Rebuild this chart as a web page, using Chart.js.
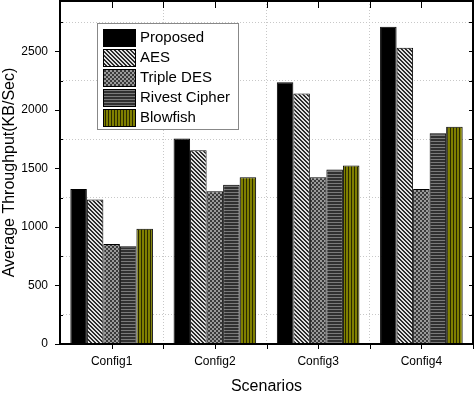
<!DOCTYPE html>
<html>
<head>
<meta charset="utf-8">
<script src="https://cdn.jsdelivr.net/npm/chart.js@4"></script>
<style>
  html, body { margin: 0; padding: 0; background: #fff; }
  #wrap { width: 474px; height: 397px; }
</style>
</head>
<body>
<div id="wrap"><canvas id="throughputChart" width="474" height="397"></canvas></div>
<script>
// Data
const scenarios = ['Config1', 'Config2', 'Config3', 'Config4'];
const proposed = [1325, 1755, 2235, 2710];
const aes = [1235, 1655, 2140, 2530];
const tripleDes = [855, 1305, 1425, 1325];
const rivestCipher = [835, 1360, 1490, 1800];
const blowfish = [985, 1425, 1525, 1855];
const yMax = 2930;
const yStep = 250;

// Build a small canvas pattern for the hatched bars
function makePattern(size, draw) {
    const c = document.createElement('canvas');
    c.width = size;
    c.height = size;
    const g = c.getContext('2d');
    draw(g, size);
    return c.getContext('2d').createPattern(c, 'repeat');
}

const aesFill = makePattern(4, (g, s) => {
    g.fillStyle = '#e0e0e0';
    g.fillRect(0, 0, s, s);
    g.fillStyle = '#2b2b2b';
    for (let i = 0; i < s; i++) {
        g.fillRect(i, i, 1, 1);
        g.fillRect((i + 1) % s, i, 1, 1);
    }
});

const tripleDesFill = makePattern(4, (g, s) => {
    g.fillStyle = '#3a3a3a';
    g.fillRect(0, 0, s, s);
    g.fillStyle = '#9a9a9a';
    g.fillRect(0, 0, 2, 2);
    g.fillRect(2, 2, 2, 2);
});

const rivestFill = makePattern(3, (g, s) => {
    g.fillStyle = '#303030';
    g.fillRect(0, 0, s, s);
    g.fillStyle = '#7a7a7a';
    g.fillRect(0, 0, s, 1);
});

const blowfishFill = makePattern(3, (g, s) => {
    g.fillStyle = '#808000';
    g.fillRect(0, 0, s, s);
    g.fillStyle = '#2a2a00';
    g.fillRect(0, 0, 1, s);
});

// Frame, tick marks and legend box drawn on top of the chart
const framePlugin = {
    id: 'frame',
    afterDraw(chart) {
        const ctx = chart.ctx;
        const area = chart.chartArea;
        const x = chart.scales.x;
        const y = chart.scales.y;
        ctx.save();
        ctx.strokeStyle = '#000';
        ctx.lineWidth = 1;

        // y ticks: outward at majors on the left, inward at every step on the right
        for (let v = 0; v <= yMax; v += yStep) {
            const py = Math.round(y.getPixelForValue(v)) + 0.5;
            ctx.beginPath();
            if (v % 500 === 0) {
                ctx.moveTo(area.left - 5, py);
                ctx.lineTo(area.left, py);
            } else {
                ctx.moveTo(area.left, py);
                ctx.lineTo(area.left + 3, py);
            }
            ctx.moveTo(area.right, py);
            ctx.lineTo(area.right - 4, py);
            ctx.stroke();
        }

        // x ticks at category centres and boundaries, bottom outward, top inward
        const half = (x.getPixelForValue(1) - x.getPixelForValue(0)) / 2;
        scenarios.forEach((s, i) => {
            const c = x.getPixelForValue(i);
            [c, c + half].forEach(px => {
                px = Math.round(px) + 0.5;
                ctx.beginPath();
                ctx.moveTo(px, area.bottom);
                ctx.lineTo(px, area.bottom + 5);
                ctx.moveTo(px, area.top);
                ctx.lineTo(px, area.top + 7);
                ctx.stroke();
            });
        });

        // plot frame
        ctx.lineWidth = 2;
        ctx.strokeRect(area.left, area.top, area.right - area.left, area.bottom - area.top);

        // legend inside the plot
        const lx = 97, ly = 23, lw = 141, lh = 106;
        ctx.fillStyle = '#fff';
        ctx.fillRect(lx, ly, lw, lh);
        ctx.lineWidth = 1;
        ctx.strokeStyle = '#888';
        ctx.strokeRect(lx + 0.5, ly + 0.5, lw, lh);
        ctx.font = '15px Arial, "Liberation Sans", sans-serif';
        ctx.textBaseline = 'middle';
        chart.data.datasets.forEach((ds, i) => {
            const cy = ly + 14 + i * 20;
            ctx.fillStyle = ds.backgroundColor;
            ctx.fillRect(lx + 6, cy - 8, 32, 17);
            ctx.strokeStyle = '#000';
            ctx.strokeRect(lx + 6.5, cy - 7.5, 32, 17);
            ctx.fillStyle = '#000';
            ctx.fillText(ds.label, lx + 43, cy + 1);
        });
        ctx.restore();
    }
};

const ctx = document.getElementById('throughputChart').getContext('2d');

const throughputChart = new Chart(ctx, {
    type: 'bar',
    data: {
        labels: scenarios,
        datasets: [
            { label: 'Proposed', data: proposed, backgroundColor: '#000000' },
            { label: 'AES', data: aes, backgroundColor: aesFill },
            { label: 'Triple DES', data: tripleDes, backgroundColor: tripleDesFill },
            { label: 'Rivest Cipher', data: rivestCipher, backgroundColor: rivestFill },
            { label: 'Blowfish', data: blowfish, backgroundColor: blowfishFill }
        ].map(ds => Object.assign(ds, {
            borderColor: '#000',
            borderWidth: 1,
            categoryPercentage: 0.8,
            barPercentage: 1.0
        }))
    },
    options: {
        responsive: false,
        animation: false,
        layout: {
            padding: { top: 1, right: 1, left: 0, bottom: 0 }
        },
        plugins: {
            legend: { display: false },
            tooltip: { enabled: false }
        },
        scales: {
            x: {
                grid: {
                    offset: true,
                    drawTicks: false,
                    color: '#c8c8c8',
                    lineWidth: 1
                },
                border: { display: false, dash: [1, 2] },
                ticks: {
                    color: '#000',
                    padding: 10,
                    font: { family: 'Arial, "Liberation Sans", sans-serif', size: 12 }
                },
                title: {
                    display: true,
                    text: 'Scenarios',
                    color: '#000',
                    padding: { top: 0, bottom: 1 },
                    font: { family: 'Arial, "Liberation Sans", sans-serif', size: 16 }
                },
                afterFit: scale => {
                    scale.height = 53;
                    scale.paddingLeft = 0;
                    scale.paddingRight = 0;
                }
            },
            y: {
                min: 0,
                max: yMax,
                grid: {
                    drawTicks: false,
                    color: c => (c.tick && c.tick.value % 500 !== 0) ? '#c8c8c8' : 'rgba(0,0,0,0)',
                    lineWidth: 1
                },
                border: { display: false, dash: [1, 2] },
                ticks: {
                    stepSize: yStep,
                    autoSkip: false,
                    color: '#000',
                    padding: 12,
                    font: { family: 'Arial, "Liberation Sans", sans-serif', size: 12 },
                    callback: function(value) {
                        return value % 500 === 0 ? value : '';
                    }
                },
                title: {
                    display: true,
                    text: 'Average Throughput(KB/Sec)',
                    color: '#000',
                    padding: { top: 0, bottom: 0 },
                    font: { family: 'Arial, "Liberation Sans", sans-serif', size: 16 }
                },
                afterFit: scale => {
                    scale.width = 60;
                    scale.paddingTop = 0;
                    scale.paddingBottom = 0;
                }
            }
        }
    },
    plugins: [framePlugin]
});
</script>
</body>
</html>
